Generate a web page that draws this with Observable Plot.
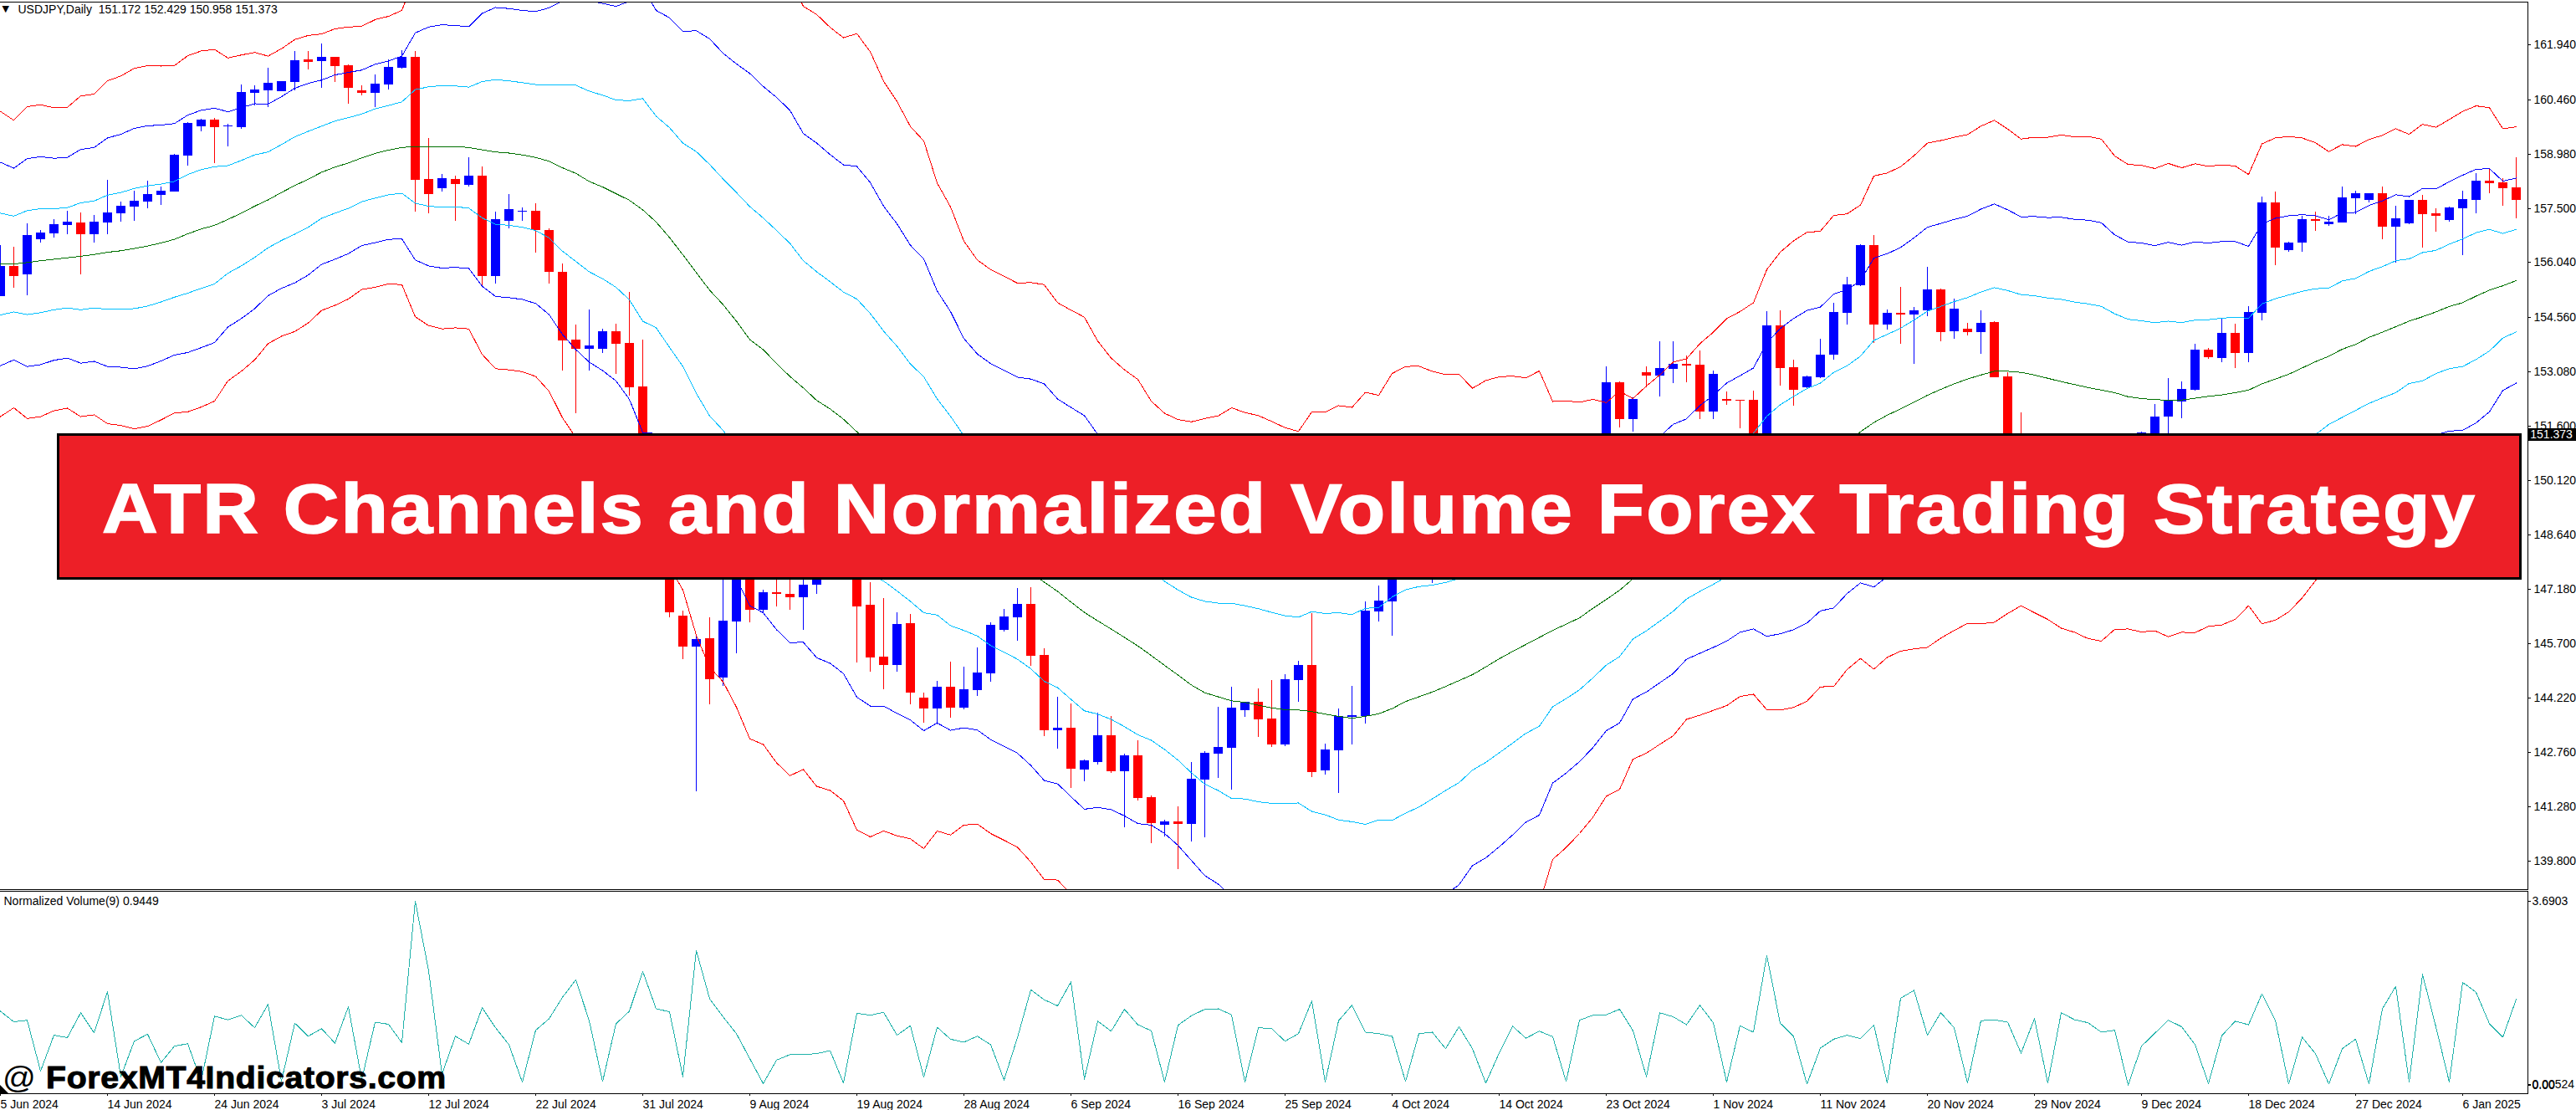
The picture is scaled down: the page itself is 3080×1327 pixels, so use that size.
<!DOCTYPE html>
<html><head><meta charset="utf-8">
<script src="https://cdn.jsdelivr.net/npm/d3@7"></script>
<script src="https://cdn.jsdelivr.net/npm/@observablehq/plot@0.6"></script>
<style>
html,body{margin:0;padding:0;background:#fff;overflow:hidden}
#page{position:relative;width:3080px;height:1327px;overflow:hidden;background:#fff;font-family:"Liberation Sans",Arial,sans-serif}
#page svg{display:block}
#banner{position:absolute;left:68px;top:518px;width:2941px;height:169px;border:3px solid #000;background:#ed1f27;color:#fff;
 font:bold 84px "Liberation Sans",Arial,sans-serif;line-height:169px;text-align:center;white-space:nowrap}
#banner span{display:inline-block;position:relative;top:3px;transform:scaleX(1.1);letter-spacing:1.85px;-webkit-text-stroke:1.5px #fff}
#mark{position:absolute;left:3px;top:1268px;font:bold 36px "Liberation Sans",Arial,sans-serif;color:#000;-webkit-text-stroke:1px #000;letter-spacing:.6px;white-space:nowrap;transform:scaleX(1.09);transform-origin:left center}
#mark span{font-weight:normal;-webkit-text-stroke:0}
#tri{position:absolute;left:0;top:1297px;width:10px;height:10px;background:#000;clip-path:polygon(0 0,100% 100%,0 100%)}
</style></head><body><div id="page">
<div id="chart"></div>
<div id="banner"><span>ATR Channels and Normalized Volume Forex Trading Strategy</span></div>
<div id="mark"><span>@</span> ForexMT4Indicators.com</div>
<div id="tri"></div>
</div>
<script>
const open=[155.11,155.93,155.70,156.67,156.82,157.05,157.12,156.80,157.12,157.37,
157.54,157.68,157.87,157.96,158.93,159.72,159.91,159.72,159.70,160.64,
160.70,160.68,160.93,161.54,161.50,161.61,161.38,160.70,160.64,160.86,
161.31,161.61,158.30,158.04,158.30,158.14,158.39,155.67,157.16,157.41,
157.43,156.91,155.77,153.93,153.69,153.69,154.16,153.85,152.67,151.0,
149.9,146.45,145.60,145.84,144.76,146.30,147.9,146.62,147.09,147.04,
146.96,147.28,147.7,148.2,148.1,146.75,145.34,145.11,146.25,144.23,
143.93,144.52,143.95,144.43,144.89,146.07,146.41,146.77,145.38,143.34,
143.41,142.27,142.48,143.21,142.23,142.66,141.53,140.78,140.87,140.80,
142.00,142.71,142.87,143.89,144.11,143.66,142.96,144.70,145.11,142.25,
142.80,143.70,143.73,146.56,146.84,147.9,148.3,148.1,148.6,148.9,
148.7,149.1,149.5,149.3,149.8,150.1,149.9,150.2,150.5,150.7,
150.9,152.78,151.78,153.05,152.96,153.14,153.28,153.26,151.99,152.32,
152.30,152.30,151.0,154.32,153.19,152.64,152.92,153.53,154.67,155.41,
156.50,154.35,154.67,154.62,154.73,155.30,154.16,154.23,154.14,154.41,
152.94,150.7,150.2,149.9,149.5,149.3,149.6,150.0,149.8,150.2,
150.6,151.0,151.84,152.26,152.57,153.66,153.44,154.12,153.58,154.67,
157.66,156.36,156.57,157.21,157.07,157.12,157.77,157.73,157.91,157.00,
157.09,157.73,157.37,157.18,157.50,157.73,158.25,158.20,158.07];
const close=[155.93,155.67,156.78,156.85,157.07,157.14,156.80,157.14,157.39,157.57,
157.70,157.89,157.97,158.96,159.82,159.91,159.70,159.74,160.66,160.72,
160.90,160.95,161.52,161.47,161.61,161.36,160.77,160.64,160.88,161.33,
161.61,158.27,157.89,158.32,158.16,158.39,155.67,157.21,157.48,157.43,
156.91,155.77,153.92,153.69,153.78,154.16,153.82,152.64,151.0,150.3,
146.53,145.60,145.82,144.73,146.31,147.9,146.62,147.09,147.03,146.96,
147.29,147.6,148.2,148.0,146.71,145.32,145.11,146.22,144.36,143.93,
144.52,143.95,144.45,144.91,146.20,146.43,146.77,145.36,143.34,143.41,
142.30,142.53,143.21,142.23,142.66,141.50,140.82,140.87,140.80,142.03,
142.73,142.89,143.95,144.11,143.64,142.96,144.72,145.11,142.21,142.82,
143.73,143.75,146.59,146.86,147.9,148.3,148.1,148.6,148.9,148.7,
149.1,149.5,149.3,149.8,150.1,149.9,150.2,150.5,150.7,150.9,
152.78,151.78,152.33,152.96,153.16,153.28,153.23,151.99,153.01,152.28,
152.28,151.0,154.32,153.16,152.57,152.94,153.53,154.68,155.44,156.50,
154.35,154.67,154.62,154.73,155.30,154.14,154.78,154.14,154.39,152.92,
150.9,150.2,149.9,149.5,149.3,149.6,150.0,149.8,150.2,150.6,
151.42,151.85,152.28,152.60,153.66,153.46,154.12,153.58,154.68,157.66,
156.43,156.57,157.21,157.17,157.14,157.80,157.91,157.91,157.00,157.23,
157.73,157.35,157.30,157.52,157.75,158.25,158.18,158.04,157.73];
const high=[156.50,156.46,157.09,156.92,157.21,157.44,157.39,157.32,158.27,157.68,
157.97,158.24,158.09,158.97,159.84,159.93,159.96,159.80,160.87,160.84,
161.31,160.95,161.76,161.77,161.98,161.61,161.40,160.84,161.13,161.54,
161.79,161.77,159.41,158.43,158.39,158.89,158.63,157.41,157.89,157.53,
157.64,156.95,156.00,154.35,154.76,154.23,154.37,155.23,153.93,151.2,
150.3,146.59,145.94,146.41,147.7,148.2,148.2,147.15,147.6,147.6,
147.8,147.9,148.4,148.6,148.4,147.36,146.93,146.55,146.50,144.36,
144.68,145.20,145.07,145.59,146.27,146.63,147.20,147.22,145.57,144.25,
144.07,142.55,143.82,143.73,142.71,143.07,141.57,140.91,141.28,142.48,
142.77,143.98,144.52,144.11,144.48,144.70,144.86,145.23,146.52,142.98,
143.93,144.54,146.84,147.27,148.1,148.6,148.6,148.9,149.1,149.3,
149.3,149.7,149.9,150.0,150.3,150.6,150.4,150.8,151.0,151.1,
153.21,152.81,152.37,153.21,153.89,153.89,153.50,153.64,153.10,152.53,
152.30,152.55,154.71,154.73,153.39,152.96,153.96,154.94,155.64,156.52,
156.78,154.75,155.37,154.82,155.91,155.32,155.05,154.39,154.73,154.44,
153.06,151.96,150.7,150.4,150.0,149.8,150.1,150.5,150.4,150.8,
151.45,152.20,152.90,152.80,153.82,153.71,154.51,154.37,154.84,157.82,
157.96,156.59,157.30,157.41,157.30,158.09,157.97,157.91,158.09,157.57,
157.73,157.87,157.50,157.54,157.97,158.46,158.57,158.32,158.89];
const low=[155.11,155.34,155.13,156.57,156.71,156.80,155.71,156.57,156.80,157.14,
157.16,157.51,157.59,157.96,158.66,159.58,158.72,159.18,159.65,160.30,
160.25,160.68,160.71,161.27,160.77,160.93,160.34,160.57,160.25,160.72,
161.29,157.41,157.37,157.96,157.16,158.09,155.39,155.46,156.96,157.16,
156.29,155.46,153.10,151.95,153.10,153.58,153.01,152.41,150.5,150.0,
146.41,145.28,141.69,144.05,144.55,145.44,146.28,146.53,146.70,146.60,
146.07,147.05,147.5,147.6,145.19,144.94,144.45,144.94,144.05,143.55,
143.50,143.68,143.92,144.27,144.66,146.02,145.77,145.09,143.18,142.84,
141.78,141.96,142.41,142.18,140.71,141.44,140.28,140.47,139.57,140.32,
140.44,142.05,141.73,143.70,143.16,142.89,142.91,144.11,142.07,142.14,
141.64,142.96,143.52,146.29,145.91,147.6,147.7,147.34,148.2,148.4,
148.4,148.8,149.0,149.0,149.5,149.7,149.6,149.9,150.2,150.3,
150.6,151.55,151.44,152.64,152.40,152.76,152.78,151.78,151.78,152.17,
151.53,150.9,150.9,152.69,152.14,152.63,152.90,153.39,154.35,155.39,
153.85,154.21,153.82,153.28,154.58,153.89,153.96,154.05,153.56,152.92,
150.5,149.9,149.6,149.2,149.0,148.9,149.2,149.6,149.4,149.9,
150.3,150.9,151.0,151.81,152.55,153.42,153.33,153.16,153.33,154.46,
155.96,156.32,156.32,156.88,157.02,157.12,157.35,157.66,156.66,156.03,
157.07,156.43,156.86,157.14,156.23,157.37,157.91,157.57,157.23];
const channelMid=[156.00,156.00,156.04,156.09,156.13,156.17,156.21,156.26,156.32,156.36,
156.42,156.49,156.57,156.67,156.82,156.95,157.05,157.21,157.38,157.57,
157.74,157.94,158.13,158.30,158.49,158.63,158.74,158.88,159.00,159.09,
159.16,159.19,159.19,159.19,159.19,159.16,159.10,159.04,159.01,158.96,
158.89,158.79,158.61,158.46,158.24,158.09,157.91,157.73,157.47,157.14,
156.72,156.25,155.77,155.29,154.90,154.45,153.95,153.68,153.30,152.95,
152.64,152.30,152.07,151.79,151.45,151.11,150.79,150.45,150.07,149.74,
149.41,149.03,148.70,148.46,148.20,148.02,147.83,147.64,147.37,147.12,
146.83,146.55,146.32,146.10,145.87,145.64,145.38,145.11,144.85,144.58,
144.37,144.26,144.15,144.11,144.03,143.96,143.91,143.90,143.86,143.79,
143.73,143.68,143.73,143.80,143.94,144.13,144.26,144.39,144.54,144.70,
144.86,145.07,145.29,145.49,145.68,145.87,146.06,146.23,146.40,146.66,
146.90,147.15,147.46,147.71,147.98,148.27,148.54,148.80,149.02,149.27,
149.49,149.64,149.88,150.11,150.30,150.50,150.71,150.93,151.18,151.45,
151.70,151.90,152.07,152.25,152.44,152.60,152.75,152.88,152.99,153.09,
153.09,153.06,152.99,152.90,152.81,152.73,152.65,152.58,152.51,152.40,
152.35,152.32,152.31,152.31,152.36,152.41,152.45,152.51,152.58,152.75,
152.88,153.01,153.18,153.35,153.50,153.69,153.82,154.01,154.15,154.30,
154.45,154.57,154.70,154.85,154.95,155.13,155.29,155.41,155.55];
const channelAtr=[1.38,1.30,1.41,1.41,1.37,1.36,1.45,1.45,1.55,1.58,
1.63,1.63,1.60,1.57,1.61,1.61,1.59,1.46,1.43,1.39,
1.30,1.30,1.32,1.30,1.25,1.25,1.23,1.19,1.21,1.21,
1.24,1.54,1.62,1.65,1.64,1.64,1.85,1.96,1.96,1.96,
1.98,2.08,2.26,2.39,2.45,2.49,2.54,2.70,3.02,2.87,
2.98,3.03,3.28,3.41,3.41,3.49,3.61,3.57,3.61,3.61,
3.45,3.49,3.45,3.45,3.60,3.55,3.39,3.32,3.22,3.20,
2.93,2.84,2.64,2.55,2.55,2.55,2.55,2.62,2.69,2.61,
2.64,2.67,2.53,2.45,2.42,2.41,2.30,2.28,2.31,2.38,
2.48,2.54,2.65,2.62,2.62,2.59,2.55,2.52,2.71,2.73,
2.81,2.81,2.93,2.88,3.03,3.03,2.99,2.90,2.82,2.77,
2.59,2.59,2.55,2.49,2.41,2.41,2.07,2.02,1.95,1.89,
1.78,1.80,1.63,1.66,1.67,1.69,1.63,1.68,1.71,1.75,
1.74,1.77,1.99,2.07,2.11,2.12,2.06,2.13,2.06,2.05,
2.23,2.19,2.19,2.23,2.28,2.25,2.23,2.21,2.25,2.27,
2.19,2.11,2.15,2.18,2.23,2.24,2.27,2.27,2.14,2.10,
2.11,2.09,2.14,2.10,2.12,2.08,2.08,2.05,1.95,2.17,
2.18,2.15,2.08,1.98,1.85,1.85,1.79,1.79,1.78,1.79,
1.69,1.74,1.67,1.69,1.73,1.72,1.65,1.42,1.39];
const volume=[1.48,1.27,1.30,0.28,1.00,0.95,1.45,1.05,1.87,0.17,
0.88,1.02,0.45,0.78,0.83,0.08,1.38,1.31,1.40,1.15,
1.62,0.08,1.24,0.98,1.13,0.84,1.57,0.11,1.26,1.22,
0.85,3.69,2.29,0.22,0.98,0.82,1.55,1.15,0.81,0.06,
1.10,1.33,1.76,2.11,1.29,0.07,1.23,1.48,2.28,1.53,
1.47,0.17,2.70,1.73,1.37,1.03,0.53,0.03,0.50,0.61,
0.61,0.63,0.69,0.04,1.44,1.40,1.46,1.00,1.19,0.16,
1.16,0.92,0.86,0.98,0.81,0.10,0.95,1.91,1.71,1.59,
2.07,0.12,1.28,1.08,1.52,1.21,1.09,0.06,1.20,1.39,
1.52,1.53,1.41,0.06,1.15,1.13,0.88,1.03,1.69,0.06,
1.29,1.60,1.06,1.03,0.98,0.07,1.03,1.06,0.73,1.17,
0.73,0.04,0.64,1.18,0.94,1.08,0.97,0.07,1.30,1.40,
1.41,1.52,1.09,0.17,1.45,1.37,1.21,1.60,1.25,0.06,
1.19,1.06,2.60,1.24,0.98,0.02,0.74,0.92,1.00,0.93,
1.20,0.04,1.74,1.90,1.00,1.45,1.15,0.04,1.29,1.31,
1.26,0.64,1.33,0.04,1.45,1.31,1.25,1.06,1.10,0.00,
0.78,1.04,1.30,1.17,0.81,0.03,0.99,1.28,1.21,1.83,
1.30,0.02,0.96,0.63,0.02,0.73,0.92,0.02,1.53,1.98,
0.06,2.22,1.17,0.06,2.06,1.86,1.23,0.96,1.72];
const priceTicks=[161.94,160.46,158.98,157.5,156.04,154.56,153.08,151.6,150.12,148.64,147.18,145.7,144.22,142.76,141.28,139.8];
const volTicks=[3.6903,0.00524,0];
const volTickLabels=["3.6903","0.00524","0.00"];
const dateLabels=["5 Jun 2024","14 Jun 2024","24 Jun 2024","3 Jul 2024","12 Jul 2024","22 Jul 2024","31 Jul 2024","9 Aug 2024","19 Aug 2024","28 Aug 2024","6 Sep 2024","16 Sep 2024","25 Sep 2024","4 Oct 2024","14 Oct 2024","23 Oct 2024","1 Nov 2024","11 Nov 2024","20 Nov 2024","29 Nov 2024","9 Dec 2024","18 Dec 2024","27 Dec 2024","6 Jan 2025"];
const dateEvery=8;
const lastPrice=151.373;
const bands=[{k:3,color:"#ff0000"},{k:2,color:"#0000ff"},{k:1,color:"#00bfff"},{k:0,color:"#007000"},{k:-1,color:"#00bfff"},{k:-2,color:"#0000ff"},{k:-3,color:"#ff0000"}];

const bars=d3.range(open.length).map(i=>({i,open:open[i],close:close[i],high:high[i],low:low[i],mid:channelMid[i],atr:channelAtr[i],vol:volume[i]}));
const up=bars.filter(d=>d.close>=d.open), down=bars.filter(d=>d.close<d.open);
const xDomain=[0,188.875];
const font="'Liberation Sans',Arial,sans-serif";
const common={width:3080,marginLeft:0,marginRight:58,style:{fontFamily:font,fontSize:"14px",background:"#fff",color:"#000",shapeRendering:"crispEdges",overflow:"visible"}};
const candle=(data,color)=>[
  Plot.ruleX(data,{x:"i",y1:"low",y2:"high",stroke:color,strokeWidth:1}),
  Plot.ruleX(data,{x:"i",y1:"open",y2:"close",stroke:color,strokeWidth:11})
];
const main=Plot.plot({...common,height:1064,marginTop:2,marginBottom:1,
  x:{domain:xDomain,axis:null},
  y:{domain:[139.03,163.106]},
  marks:[
    ...candle(down,"#ff0000"),...candle(up,"#0000ff"),
    ...bands.map(b=>Plot.line(bars,{x:"i",y:d=>d.mid+b.k*d.atr,stroke:b.color,strokeWidth:1,clip:true})),
    Plot.frame({anchor:"top",stroke:"#000"}),Plot.frame({anchor:"bottom",stroke:"#000"}),Plot.frame({anchor:"right",stroke:"#000"}),
    Plot.axisY(priceTicks,{anchor:"right",label:null,tickSize:3,tickPadding:4,tickFormat:d=>d.toFixed(3),fontSize:14,fill:"#000",stroke:"#000"}),
    Plot.ruleY([lastPrice],{x1:188.875,x2:192.5,stroke:"#000",strokeWidth:15}),
    Plot.text([lastPrice],{x:189.05,y:d=>d,text:d=>d.toFixed(3),fill:"#fff",fontSize:14,textAnchor:"start"}),
    Plot.text(["USDJPY,Daily  151.172 152.429 150.958 151.373"],{frameAnchor:"top-left",dx:21,dy:4,textAnchor:"start",lineAnchor:"top",fontSize:14,fill:"#000"}),
    Plot.text(["▼"],{frameAnchor:"top-left",dx:2,dy:4,textAnchor:"start",lineAnchor:"top",fontSize:11,fill:"#000",fontFamily:"DejaVu Sans"})
  ]});
const lower=Plot.plot({...common,height:263,marginTop:1,marginBottom:20,
  x:{domain:xDomain},
  y:{domain:[-0.1733,3.887]},
  marks:[
    Plot.line(bars,{x:"i",y:"vol",stroke:"#20b2aa",strokeWidth:1,clip:true}),
    Plot.frame({anchor:"top",stroke:"#000"}),Plot.frame({anchor:"bottom",stroke:"#000"}),Plot.frame({anchor:"right",stroke:"#000"}),
    Plot.axisY(volTicks,{anchor:"right",label:null,tickSize:3,tickPadding:2,tickFormat:d=>volTickLabels[volTicks.indexOf(d)],fontSize:14,fill:"#000",stroke:"#000"}),
    Plot.axisX(d3.range(dateLabels.length).map(k=>k*dateEvery),{anchor:"bottom",label:null,tickSize:3,tickPadding:5,textAnchor:"start",tickFormat:d=>dateLabels[d/dateEvery],fontSize:14,fill:"#000",stroke:"#000"}),
    Plot.text(["Normalized Volume(9) 0.9449"],{frameAnchor:"top-left",dx:4,dy:7,textAnchor:"start",lineAnchor:"top",fontSize:14,fill:"#000"})
  ]});
const host=document.getElementById("chart");
host.append(main,lower);
</script></body></html>
